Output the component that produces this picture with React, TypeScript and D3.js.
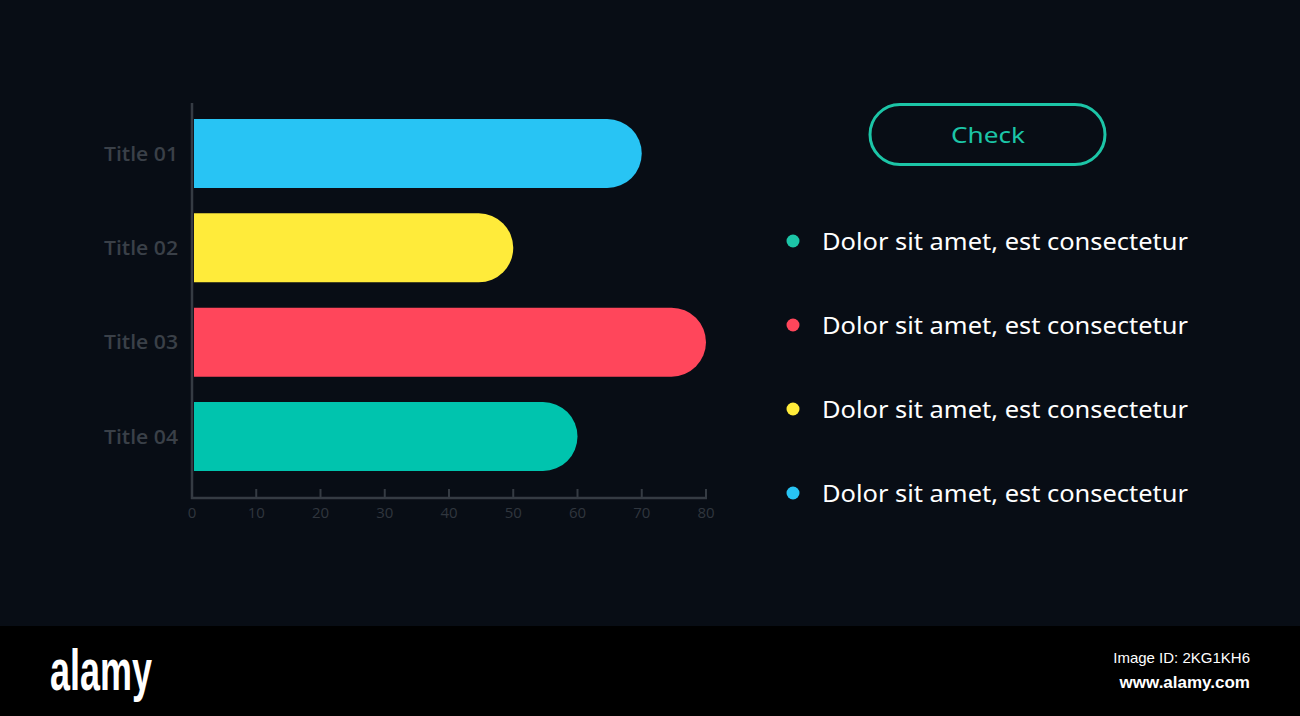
import React from "react";
import * as d3 from "d3";

const titles = ["Title 01", "Title 02", "Title 03", "Title 04"];
const values = [70, 50, 80, 60];
const barColors = ["#28c4f4", "#ffeb3a", "#ff465b", "#00c4ae"];
const xTicks = [0, 10, 20, 30, 40, 50, 60, 70, 80];
const legendLabels = [
  "Dolor sit amet, est consectetur",
  "Dolor sit amet, est consectetur",
  "Dolor sit amet, est consectetur",
  "Dolor sit amet, est consectetur",
];
const legendColors = ["#1cc5a7", "#ff465b", "#ffeb3a", "#28c4f4"];
const buttonLabel = "Check";

const W = 1300;
const H = 716;

export default function App() {
  const x = d3.scaleLinear().domain([0, 80]).range([192, 706]);
  const y = d3.scalePoint<string>().domain(titles).range([153.5, 436.5]);
  const barH = 69;
  const legendY = d3.scalePoint<number>().domain([0, 1, 2, 3]).range([241, 493]);
  const axisColor = "#353b43";

  const barPath = (v: number, cy: number) => {
    const x0 = x(0) + 2;
    const x1 = x(v);
    const r = barH / 2;
    const y0 = cy - r;
    const p = d3.path();
    p.moveTo(x0, y0);
    p.lineTo(x1 - r, y0);
    p.arc(x1 - r, cy, r, -Math.PI / 2, Math.PI / 2);
    p.lineTo(x0, y0 + barH);
    p.closePath();
    return p.toString();
  };

  return (
    <div style={{ position: "fixed", left: 0, top: 0, width: W, height: H }}>
      <svg width={W} height={H} viewBox={`0 0 ${W} ${H}`}>
        <rect x={0} y={0} width={W} height={H} fill="#080d15" />
        <rect x={0} y={626} width={W} height={90} fill="#000000" />

        {/* bars */}
        {titles.map((t, i) => (
          <path key={t} d={barPath(values[i], y(t)!)} fill={barColors[i]} />
        ))}

        {/* category labels */}
        {titles.map((t) => (
          <text
            key={"l" + t}
            x={178}
            y={y(t)! + 7}
            textAnchor="end"
            fontFamily="'Open Sans', sans-serif"
            fontWeight={600}
            fontSize={20}
            fill="#3a4048"
            textLength={74}
            lengthAdjust="spacingAndGlyphs"
          >
            {t}
          </text>
        ))}

        {/* axes */}
        <line x1={x(0)} x2={x(0)} y1={103} y2={499} stroke={axisColor} strokeWidth={2.5} />
        <line x1={x(0) - 1} x2={x(80) + 1} y1={498} y2={498} stroke={axisColor} strokeWidth={2.5} />
        {xTicks.slice(1).map((v) => (
          <line key={"t" + v} x1={x(v)} x2={x(v)} y1={489} y2={498} stroke={axisColor} strokeWidth={2} />
        ))}
        {xTicks.map((v) => (
          <text
            key={"tl" + v}
            x={x(v)}
            y={518}
            textAnchor="middle"
            fontFamily="'Open Sans', sans-serif"
            fontSize={15}
            fill="#30363e"
          >
            {v}
          </text>
        ))}

        {/* check button */}
        <rect x={870} y={104.5} width={235} height={60} rx={30} ry={30} fill="none" stroke="#1cc5a7" strokeWidth={3} />
        <text
          x={951}
          y={143}
          fontFamily="'Noto Sans', sans-serif"
          fontSize={22}
          fill="#1cc5a7"
          textLength={74}
          lengthAdjust="spacingAndGlyphs"
        >
          {buttonLabel}
        </text>

        {/* legend */}
        {legendLabels.map((l, i) => (
          <g key={"lg" + i}>
            <circle cx={793} cy={legendY(i)!} r={6.5} fill={legendColors[i]} />
            <text
              x={822}
              y={legendY(i)! + 9}
              fontFamily="'Noto Sans', sans-serif"
              fontSize={24}
              fill="#ffffff"
              textLength={366}
              lengthAdjust="spacingAndGlyphs"
            >
              {l}
            </text>
          </g>
        ))}

        {/* bottom banner */}
        <text
          x={50}
          y={690}
          fontFamily="'Liberation Sans Narrow', 'Liberation Sans', sans-serif"
          fontWeight={700}
          fontSize={58}
          fill="#ffffff"
          textLength={102}
          lengthAdjust="spacingAndGlyphs"
        >
          alamy
        </text>
        <text
          x={1250}
          y={663}
          textAnchor="end"
          fontFamily="'Liberation Sans Narrow', 'Liberation Sans', sans-serif"
          fontSize={15}
          fill="#ffffff"
        >
          Image ID: 2KG1KH6
        </text>
        <text
          x={1250}
          y={688}
          textAnchor="end"
          fontFamily="'Liberation Sans Narrow', 'Liberation Sans', sans-serif"
          fontWeight={700}
          fontSize={17}
          fill="#ffffff"
        >
          www.alamy.com
        </text>
      </svg>
    </div>
  );
}
